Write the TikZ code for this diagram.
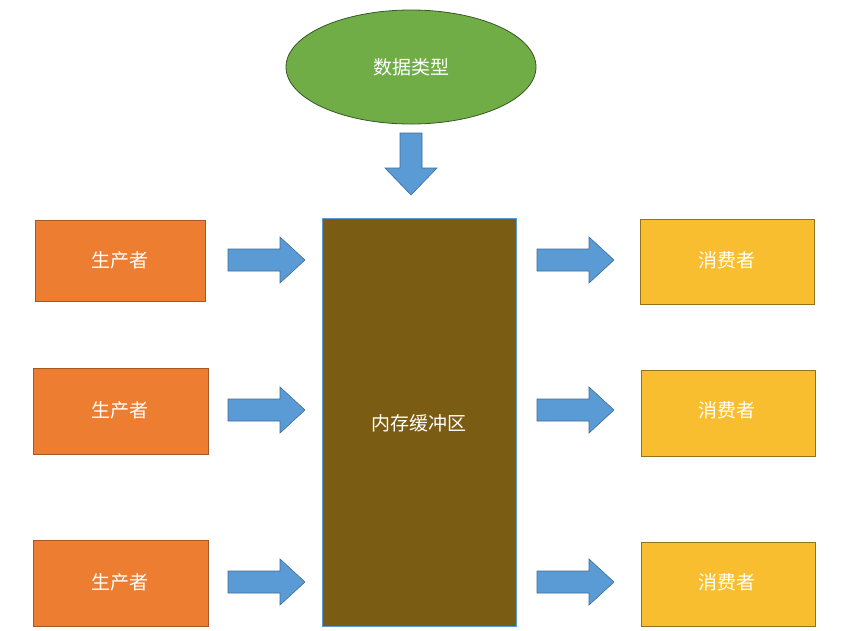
\documentclass[tikz,border=0pt]{standalone}
\usepackage{fontspec}
\setmainfont{Noto Sans CJK SC}
\usetikzlibrary{shapes.geometric}
\definecolor{borange}{HTML}{ED7D31}
\definecolor{byellow}{HTML}{F8BE2F}
\definecolor{bblue}{HTML}{5B9BD5}
\definecolor{bgreen}{HTML}{70AD47}
\definecolor{bbrown}{HTML}{7A5C12}
\tikzset{
  lbl/.style={text=white,font=\fontsize{19}{22}\selectfont},
  prod/.style={draw=borange!70!black,fill=borange,line width=0.8pt},
  cons/.style={draw=byellow!60!black,fill=byellow,line width=0.8pt},
  barrow/.style={fill=bblue,draw=bblue!70!black,line width=0.6pt}
}
\newcommand{\rarrow}[2]{% x, y center
  \draw[barrow] (#1,#2-11) -- (#1+52,#2-11) -- (#1+52,#2-23) -- (#1+77,#2) -- (#1+52,#2+23) -- (#1+52,#2+11) -- (#1,#2+11) -- cycle;}
\begin{document}
\begin{tikzpicture}[x=1pt,y=-1pt]
\useasboundingbox (0,0) rectangle (855,630);
\fill[white] (0,0) rectangle (855,630);
\node[ellipse,draw=bgreen!50!black,fill=bgreen,line width=0.8pt,minimum width=250,minimum height=114,lbl] (type) at (411,67) {数据类型};
\draw[barrow] (400,133) -- (422,133) -- (422,168) -- (437,168) -- (411,195) -- (385,168) -- (400,168) -- cycle;
\draw[fill=bbrown,draw=bblue,line width=0.8pt] (322,218) rectangle (516,626);
\node[lbl] (buf) at (419,423) {内存缓冲区};
\draw[prod] (35,220) rectangle (205,301); \node[lbl] (p1) at (120,260) {生产者};
\draw[prod] (33,368) rectangle (208,454); \node[lbl] (p2) at (120,410) {生产者};
\draw[prod] (33,540) rectangle (208,626); \node[lbl] (p3) at (120,582) {生产者};
\draw[cons] (640,219) rectangle (814,304); \node[lbl] (c1) at (727,260) {消费者};
\draw[cons] (641,370) rectangle (815,456); \node[lbl] (c2) at (727,410) {消费者};
\draw[cons] (641,542) rectangle (815,626); \node[lbl] (c3) at (727,582) {消费者};
\rarrow{228}{260}\rarrow{228}{410}\rarrow{228}{582}
\rarrow{537}{260}\rarrow{537}{410}\rarrow{537}{582}
\end{tikzpicture}
\end{document}
